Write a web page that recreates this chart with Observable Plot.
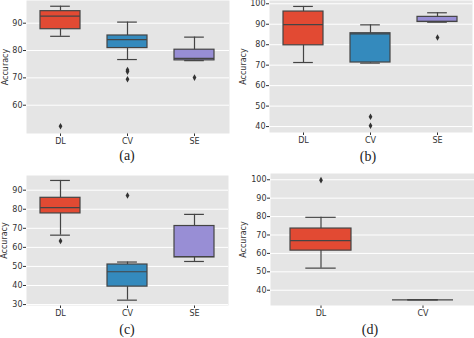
<!DOCTYPE html>
<html><head><meta charset="utf-8">
<script src="https://cdn.jsdelivr.net/npm/d3@7"></script>
<script src="https://cdn.jsdelivr.net/npm/@observablehq/plot@0.6"></script>
<style>
body{margin:0;background:#fff;}
#root{position:relative;width:474px;height:338px;overflow:hidden;background:#fff;}
.panel{position:absolute;}
.cap{position:absolute;font-family:"Liberation Serif",serif;font-size:14px;line-height:14px;color:#222;transform:translate(-50%,-50%);white-space:nowrap;}
</style></head><body><div id="root"></div>
<script>
const catsABC = ["DL","CV","SE"];
const catsD = ["DL","CV"];
const palette = ["#E24A33","#348ABD","#988ED5"];

// (a)
const aLo  = [85.2, 76.7, 76.3];
const aQ1  = [87.8, 80.9, 76.4];
const aMed = [92.6, 84.0, 77.1];
const aQ3  = [94.4, 85.5, 80.3];
const aHi  = [96.2, 90.4, 84.9];
const aOutCat = ["DL","CV","CV","CV","SE"];
const aOutVal = [52.3, 72.9, 72.3, 69.5, 70.1];
const aTicks = [60, 70, 80, 90];

// (b)
const bLo  = [71.3, 71.0, 91.0];
const bQ1  = [79.7, 71.3, 91.1];
const bMed = [89.8, 85.3, 91.4];
const bQ3  = [96.2, 85.6, 93.6];
const bHi  = [98.7, 89.7, 95.6];
const bOutCat = ["CV","CV","SE"];
const bOutVal = [44.8, 40.4, 83.5];
const bTicks = [40, 50, 60, 70, 80, 90, 100];

// (c)
const cLo  = [66.4, 32.3, 52.6];
const cQ1  = [77.8, 39.4, 54.7];
const cMed = [80.8, 47.2, 55.2];
const cQ3  = [86.0, 51.0, 71.2];
const cHi  = [95.1, 52.3, 77.3];
const cOutCat = ["DL","CV"];
const cOutVal = [63.3, 87.2];
const cTicks = [30, 40, 50, 60, 70, 80, 90];

// (d)
const dLo  = [52.0, 34.8];
const dQ1  = [61.5, 34.8];
const dMed = [66.9, 34.8];
const dQ3  = [73.5, 34.8];
const dHi  = [79.6, 34.8];
const dOutCat = ["DL"];
const dOutVal = [99.8];
const dTicks = [40, 50, 60, 70, 80, 90, 100];

const captions = ["(a)", "(b)", "(c)", "(d)"];

function panel(o) {
  const rows = o.cats.map((c, i) => ({c, lo: o.lo[i], q1: o.q1[i], med: o.med[i], q3: o.q3[i], hi: o.hi[i]}));
  const outs = o.outCat.map((c, i) => ({c, v: o.outVal[i]}));
  const plotW = o.width - o.ml - o.mr;
  const bw = plotW / o.cats.length * 0.6;
  const edge = "#444";
  return Plot.plot({
    width: o.width, height: o.height,
    marginTop: o.mt, marginRight: o.mr, marginBottom: o.mb, marginLeft: o.ml,
    style: {fontFamily: "DejaVu Sans", fontSize: "8px", color: "#333", background: "transparent", overflow: "visible"},
    x: {type: "band", domain: o.cats, paddingInner: 0.4, paddingOuter: 0.2, label: null, tickSize: 3, tickPadding: 2},
    y: {domain: o.domain, ticks: o.ticks, tickSize: 3, tickPadding: 1, label: "Accuracy", labelAnchor: "center", labelArrow: "none", labelOffset: o.lo_},
    color: {domain: catsABC, range: palette},
    marks: [
      Plot.frame({fill: "#e5e5e5", stroke: "none"}),
      Plot.gridY(o.ticks, {stroke: "#fff", strokeOpacity: 1, strokeWidth: 1}),
      Plot.ruleX(rows, {x: "c", y1: "lo", y2: "hi", stroke: edge, strokeWidth: 1.2}),
      Plot.tickY(rows, {x: "c", y: "lo", stroke: edge, strokeWidth: 1.2, insetLeft: bw / 4, insetRight: bw / 4}),
      Plot.tickY(rows, {x: "c", y: "hi", stroke: edge, strokeWidth: 1.2, insetLeft: bw / 4, insetRight: bw / 4}),
      Plot.barY(rows, {x: "c", y1: "q1", y2: "q3", fill: "c", stroke: edge, strokeWidth: 1.2}),
      Plot.tickY(rows, {x: "c", y: "med", stroke: edge, strokeWidth: 1.2}),
      Plot.dot(outs, {x: "c", y: "v", symbol: "diamond", r: 2, fill: "#333", stroke: "none"})
    ]
  });
}

const root = document.getElementById("root");
const configs = [
  {left: 0, top: 0, cats: catsABC, lo: aLo, q1: aQ1, med: aMed, q3: aQ3, hi: aHi, outCat: aOutCat, outVal: aOutVal, ticks: aTicks,
   domain: [49.65, 98.3], width: 237, height: 150, mt: 0, mr: 8, mb: 17, ml: 26, lo_: 24, cap: [127, 156]},
  {left: 237, top: 0, cats: catsABC, lo: bLo, q1: bQ1, med: bMed, q3: bQ3, hi: bHi, outCat: bOutCat, outVal: bOutVal, ticks: bTicks,
   domain: [37.1, 101.6], width: 237, height: 150, mt: 0, mr: 2, mb: 18, ml: 32, lo_: 29, cap: [368, 157]},
  {left: 0, top: 169, cats: catsABC, lo: cLo, q1: cQ1, med: cMed, q3: cQ3, hi: cHi, outCat: cOutCat, outVal: cOutVal, ticks: cTicks,
   domain: [29.5, 97.7], width: 237, height: 150, mt: 6, mr: 9, mb: 14, ml: 26, lo_: 25, cap: [127, 330]},
  {left: 237, top: 169, cats: catsD, lo: dLo, q1: dQ1, med: dMed, q3: dQ3, hi: dHi, outCat: dOutCat, outVal: dOutVal, ticks: dTicks,
   domain: [31.7, 103.4], width: 237, height: 150, mt: 4, mr: 0, mb: 14, ml: 33, lo_: 30, cap: [370, 330]}
];
configs.forEach((cfg, i) => {
  const div = document.createElement("div");
  div.className = "panel";
  div.style.left = cfg.left + "px";
  div.style.top = cfg.top + "px";
  div.appendChild(panel(cfg));
  root.appendChild(div);
  const cap = document.createElement("div");
  cap.className = "cap";
  cap.style.left = cfg.cap[0] + "px";
  cap.style.top = cfg.cap[1] + "px";
  cap.textContent = captions[i];
  root.appendChild(cap);
});
</script></body></html>
